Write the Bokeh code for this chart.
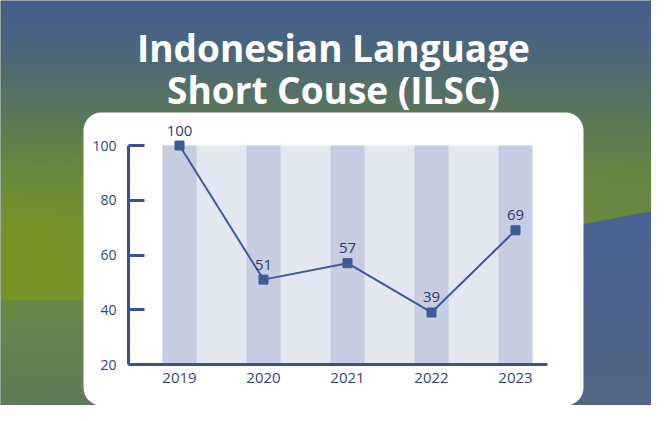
import numpy as np
from bokeh.plotting import figure
from bokeh.models import Range1d, LinearAxis, FixedTicker, Label, ColumnDataSource
from bokeh.core.properties import value
from bokeh.embed import file_html
from bokeh.resources import INLINE

# ---------------- data ----------------
years = ["2019", "2020", "2021", "2022", "2023"]
participants = [100, 51, 57, 39, 69]
y_ticks = [20, 40, 60, 80, 100]
title_lines = ["Indonesian Language", "Short Couse (ILSC)"]

# ---------------- layout helpers (pixels -> data) ----------------
W, H = 651, 405
X0_PX, PX_PER_CAT = 179.0, 84.0       # pixel x of first category, pixels per category
Y100_PX, PX_PER_UNIT = 145.0, 2.7375  # pixel y (from top) of value 100, pixels per unit


def dx(px):
    return (px - X0_PX) / PX_PER_CAT


def dy(py):
    return y_ticks[-1] + (Y100_PX - py) / PX_PER_UNIT


idx = list(range(len(years)))

p = figure(width=W, height=H, output_backend="svg", toolbar_location=None,
           x_range=Range1d(dx(0), dx(W)), y_range=Range1d(dy(H), dy(0)),
           x_axis_type=None, y_axis_type=None, min_border=0)
p.outline_line_color = None
p.xgrid.visible = False
p.ygrid.visible = False
p.border_fill_color = "#5a7468"
p.background_fill_color = "#5a7468"

# ---------------- background gradient (decoration) ----------------
yy, xx = np.mgrid[0:H, 0:W].astype(float)
ry = yy
rx = xx
stops = np.array([0, 40, 110, 170, 225, 298, 300, 421], float)
left_c = np.array([(70, 94, 140), (74, 100, 130), (90, 118, 92), (106, 137, 62),
                   (118, 148, 40), (120, 150, 38), (105, 137, 72), (92, 122, 92)], float)
right_c = np.array([(70, 94, 140), (74, 100, 130), (90, 118, 92), (102, 133, 70),
                    (106, 136, 66), (104, 134, 70), (100, 130, 80), (92, 122, 92)], float)
img = np.zeros((H, W, 3))
t = np.clip(rx / 667.0, 0, 1)
for c in range(3):
    lc = np.interp(ry, stops, left_c[:, c])
    rc = np.interp(ry, stops, right_c[:, c])
    img[..., c] = lc * (1 - t) + rc * t
# blue wedge on the right / bottom
line1 = 223 + (rx - 583) * (207 - 223) / (667 - 583)
line2_x = 583 + (ry - 223) * (400 - 583) / (421 - 223)
mask = (ry > line1) & (rx > line2_x)
tb = np.clip((ry - 207) / (421 - 207), 0, 1)
blue_top = np.array([74, 99, 150], float)
blue_bot = np.array([82, 104, 132], float)
for c in range(3):
    img[..., c] = np.where(mask, blue_top[c] * (1 - tb) + blue_bot[c] * tb, img[..., c])
rgba = np.empty((H, W), dtype=np.uint32)
view = rgba.view(dtype=np.uint8).reshape((H, W, 4))
view[..., :3] = np.clip(img, 0, 255).astype(np.uint8)
view[..., 3] = 255
p.image_rgba(image=[rgba[::-1]], x=dx(0), y=dy(H), dw=dx(W) - dx(0), dh=dy(0) - dy(H))

# ---------------- white card ----------------
p.quad(left=dx(83), right=dx(583), top=dy(112), bottom=dy(405),
       fill_color="white", line_color=None, border_radius=18)

# ---------------- bands ----------------
band_w = 34 / PX_PER_CAT
p.quad(left=idx[0] - band_w / 2, right=idx[-1] + band_w / 2, bottom=y_ticks[0], top=y_ticks[-1],
       fill_color="#e3e7f0", line_color=None)
p.vbar(x=idx, width=band_w, bottom=y_ticks[0], top=y_ticks[-1],
       fill_color="#c6cde0", line_color=None)

# ---------------- series ----------------
src = ColumnDataSource(dict(x=idx, y=participants, lab=[str(v) for v in participants]))
p.line("x", "y", source=src, line_color="#40599a", line_width=2)
p.scatter("x", "y", source=src, marker="square", size=9, fill_color="#3e5a98", line_color="#3e5a98")
p.text("x", "y", text="lab", source=src, text_font=value("Open Sans"), text_font_size="15px",
       text_color="#2d3b6b", text_align="center", text_baseline="middle", y_offset=-15)

# ---------------- axes ----------------
axis_color = "#3c5290"
xaxis = LinearAxis(ticker=FixedTicker(ticks=idx),
                   major_label_overrides={i: y for i, y in zip(idx, years)})
xaxis.fixed_location = y_ticks[0]
xaxis.bounds = (dx(128), dx(547))
xaxis.axis_line_color = axis_color
xaxis.axis_line_width = 3
xaxis.major_tick_line_color = None
xaxis.minor_tick_line_color = None
xaxis.major_tick_out = 0
xaxis.major_tick_in = 0
xaxis.major_label_standoff = 8
xaxis.major_label_text_font = "Open Sans"
xaxis.major_label_text_font_size = "15px"
xaxis.major_label_text_color = "#34457a"
p.add_layout(xaxis, "below")

yaxis = LinearAxis(ticker=FixedTicker(ticks=y_ticks))
yaxis.fixed_location = dx(128)
yaxis.bounds = (y_ticks[0], y_ticks[-1])
yaxis.axis_line_color = axis_color
yaxis.axis_line_width = 3
yaxis.major_tick_line_color = axis_color
yaxis.major_tick_line_width = 3
yaxis.major_tick_in = 16
yaxis.major_tick_out = 0
yaxis.minor_tick_line_color = None
yaxis.major_label_standoff = 12
yaxis.major_label_text_font = "Open Sans"
yaxis.major_label_text_font_size = "14px"
yaxis.major_label_text_color = "#34457a"
p.add_layout(yaxis, "left")

# ---------------- title ----------------
for line, base in zip(title_lines, [H - 47, H - 89]):
    p.add_layout(Label(x=333, y=base, x_units="screen", y_units="screen",
                       text=line, text_font="Open Sans", text_font_style="bold",
                       text_font_size="37px", text_color="white",
                       text_align="center", text_baseline="alphabetic"))

open("out.html", "w").write(file_html(p, INLINE))
